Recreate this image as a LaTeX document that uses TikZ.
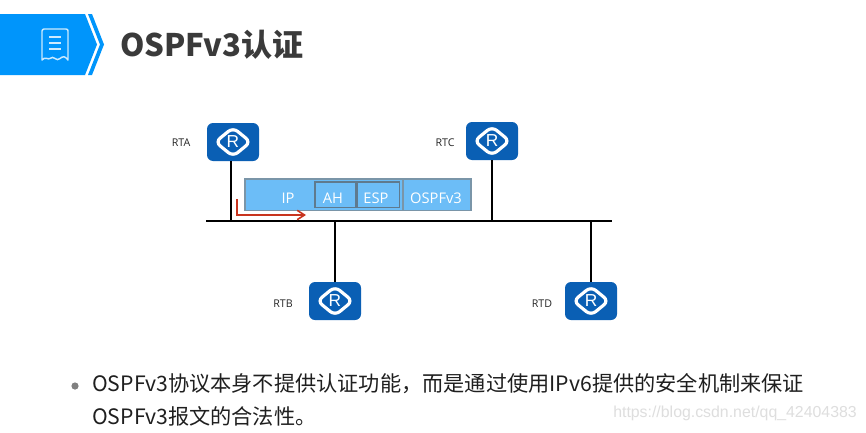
\documentclass[tikz,border=0pt]{standalone}
\usepackage{fontspec}
\setmainfont{Open Sans}
\newfontfamily\cjk{Noto Sans CJK SC}
\newfontfamily\wm{Liberation Sans}
\usetikzlibrary{arrows.meta}
\definecolor{bannerblue}{HTML}{0095FB}
\definecolor{routerblue}{HTML}{0A5FB4}
\definecolor{cellblue}{HTML}{6CBDF7}
\definecolor{cellline}{HTML}{5F7A8E}
\definecolor{pktline}{HTML}{7A95A8}
\definecolor{arrowred}{HTML}{C8341E}
\definecolor{titlegrey}{HTML}{3A3A3A}
\tikzset{
  x=0.75pt,y=-0.75pt,
  routerbox/.style={draw=none,fill=routerblue,rounded corners=4.5pt,minimum width=39pt,minimum height=28.5pt,inner sep=0pt,outer sep=0pt,
    path picture={
      \draw[white,line width=2.4pt,line join=miter] (path picture bounding box.center) ++(-13.2pt,0) -- ++(13.2pt,10.8pt) -- ++(13.2pt,-10.8pt) -- ++(-13.2pt,-10.8pt) -- cycle;
    },text=white,font=\wm\fontsize{13}{13}\selectfont},
  rlabel/.style={inner sep=0pt,font=\fontsize{8}{8}\selectfont,text=black!85},
  wire/.style={draw=black,line width=1.5pt},
  cell/.style={draw=cellline,line width=1.1pt,fill=cellblue,inner sep=0pt,outer sep=0pt,anchor=north west},
  celltext/.style={text=white,inner sep=0pt,font=\fontsize{11}{11}\selectfont},
}
\begin{document}
\begin{tikzpicture}
\useasboundingbox[fill=white] (0,0) rectangle (866,432);
% banner
\fill[bannerblue] (0,14) -- (85,14) -- (97,44.5) -- (85,75) -- (0,75) -- cycle;
\fill[bannerblue] (88,14) -- (92,14) -- (104,44.5) -- (92,75) -- (88,75) -- (100,44.5) -- cycle;
\draw[white!80!bannerblue,line width=1.1pt,line join=round] (44,29) -- (66,29) .. controls (67.5,29) and (68,30) .. (68,31) -- (68,60) .. controls (65,56) and (63,56) .. (60,58.5) .. controls (58,60) and (57,60) .. (55,58.5) .. controls (53,57) and (52,57) .. (50,58.5) .. controls (48,60) and (45,56) .. (42,60) -- (42,31) .. controls (42,30) and (43,29) .. (44,29) -- cycle;
\foreach \yy in {37,43,49}{\draw[white!80!bannerblue,line width=1.1pt] (49,\yy) -- (61,\yy);}
\node[anchor=west,inner sep=0pt,text=titlegrey,font=\cjk\bfseries\fontsize{23.3}{23.3}\selectfont] (title) at (120,45) {OSPFv3认证};
% routers
\node[routerbox] (rta) at (233,142) {R};
\node[routerbox] (rtc) at (492,141) {R};
\node[routerbox] (rtb) at (335,301) {R};
\node[routerbox] (rtd) at (591,301) {R};
\node[rlabel] (la) at (181,143) {RTA};
\node[rlabel] (lc) at (445,143) {RTC};
\node[rlabel] (lb) at (283,304) {RTB};
\node[rlabel] (ld) at (542,304) {RTD};
% bus
\coordinate (busl) at (206,221);
\coordinate (busr) at (612,221);
\coordinate (tapa) at (231,161);
\draw[wire] (busl) -- (busr);
\draw[wire] (tapa) -- (tapa |- busl);
\draw[wire] (rtc.south) -- (rtc.south |- busl);
\draw[wire] (rtb.north) -- (rtb.north |- busl);
\draw[wire] (rtd.north) -- (rtd.north |- busl);
% packet
\node[cell,draw=pktline,minimum width=169.5pt,minimum height=23.5pt] (pkt) at (245,179) {};
\node[cell,minimum width=30.5pt,minimum height=19pt] (ah) at (315,182) {};
\node[cell,minimum width=32pt,minimum height=19pt] (esp) at (357,182) {};
\node[cell,draw=pktline,minimum width=51pt,minimum height=23.5pt] (ospf) at (403,179) {};
\node[celltext] (ip) at (288,198) {IP};
\node[celltext] (aht) at (333,198) {AH};
\node[celltext] (espt) at (376,198) {ESP};
\node[celltext] (ospft) at (436,198) {OSPFv3};
% red arrow
\coordinate (ra) at (237,199);
\coordinate (rb) at (306,215);
\draw[arrowred,line width=1.2pt,-{Straight Barb[length=5.5pt,width=7pt]}] (ra) -- (ra |- rb) -- (rb);
% bullet
\fill[black!50] (75,386) circle (3.6);
\node[anchor=west,inner sep=0pt,text=black!88,font=\cjk\fontsize{15.9}{15.9}\selectfont] (l1) at (92,384) {OSPFv3协议本身不提供认证功能，而是通过使用IPv6提供的安全机制来保证};
\node[anchor=west,inner sep=0pt,text=black!88,font=\cjk\fontsize{15.9}{15.9}\selectfont] (l2) at (92,416) {OSPFv3报文的合法性。};
% watermark
\node[anchor=west,inner sep=0pt,text=black!13,font=\wm\fontsize{11.9}{11.9}\selectfont] (wmk) at (613,413) {https://blog.csdn.net/qq\_42404383};
\end{tikzpicture}
\end{document}
